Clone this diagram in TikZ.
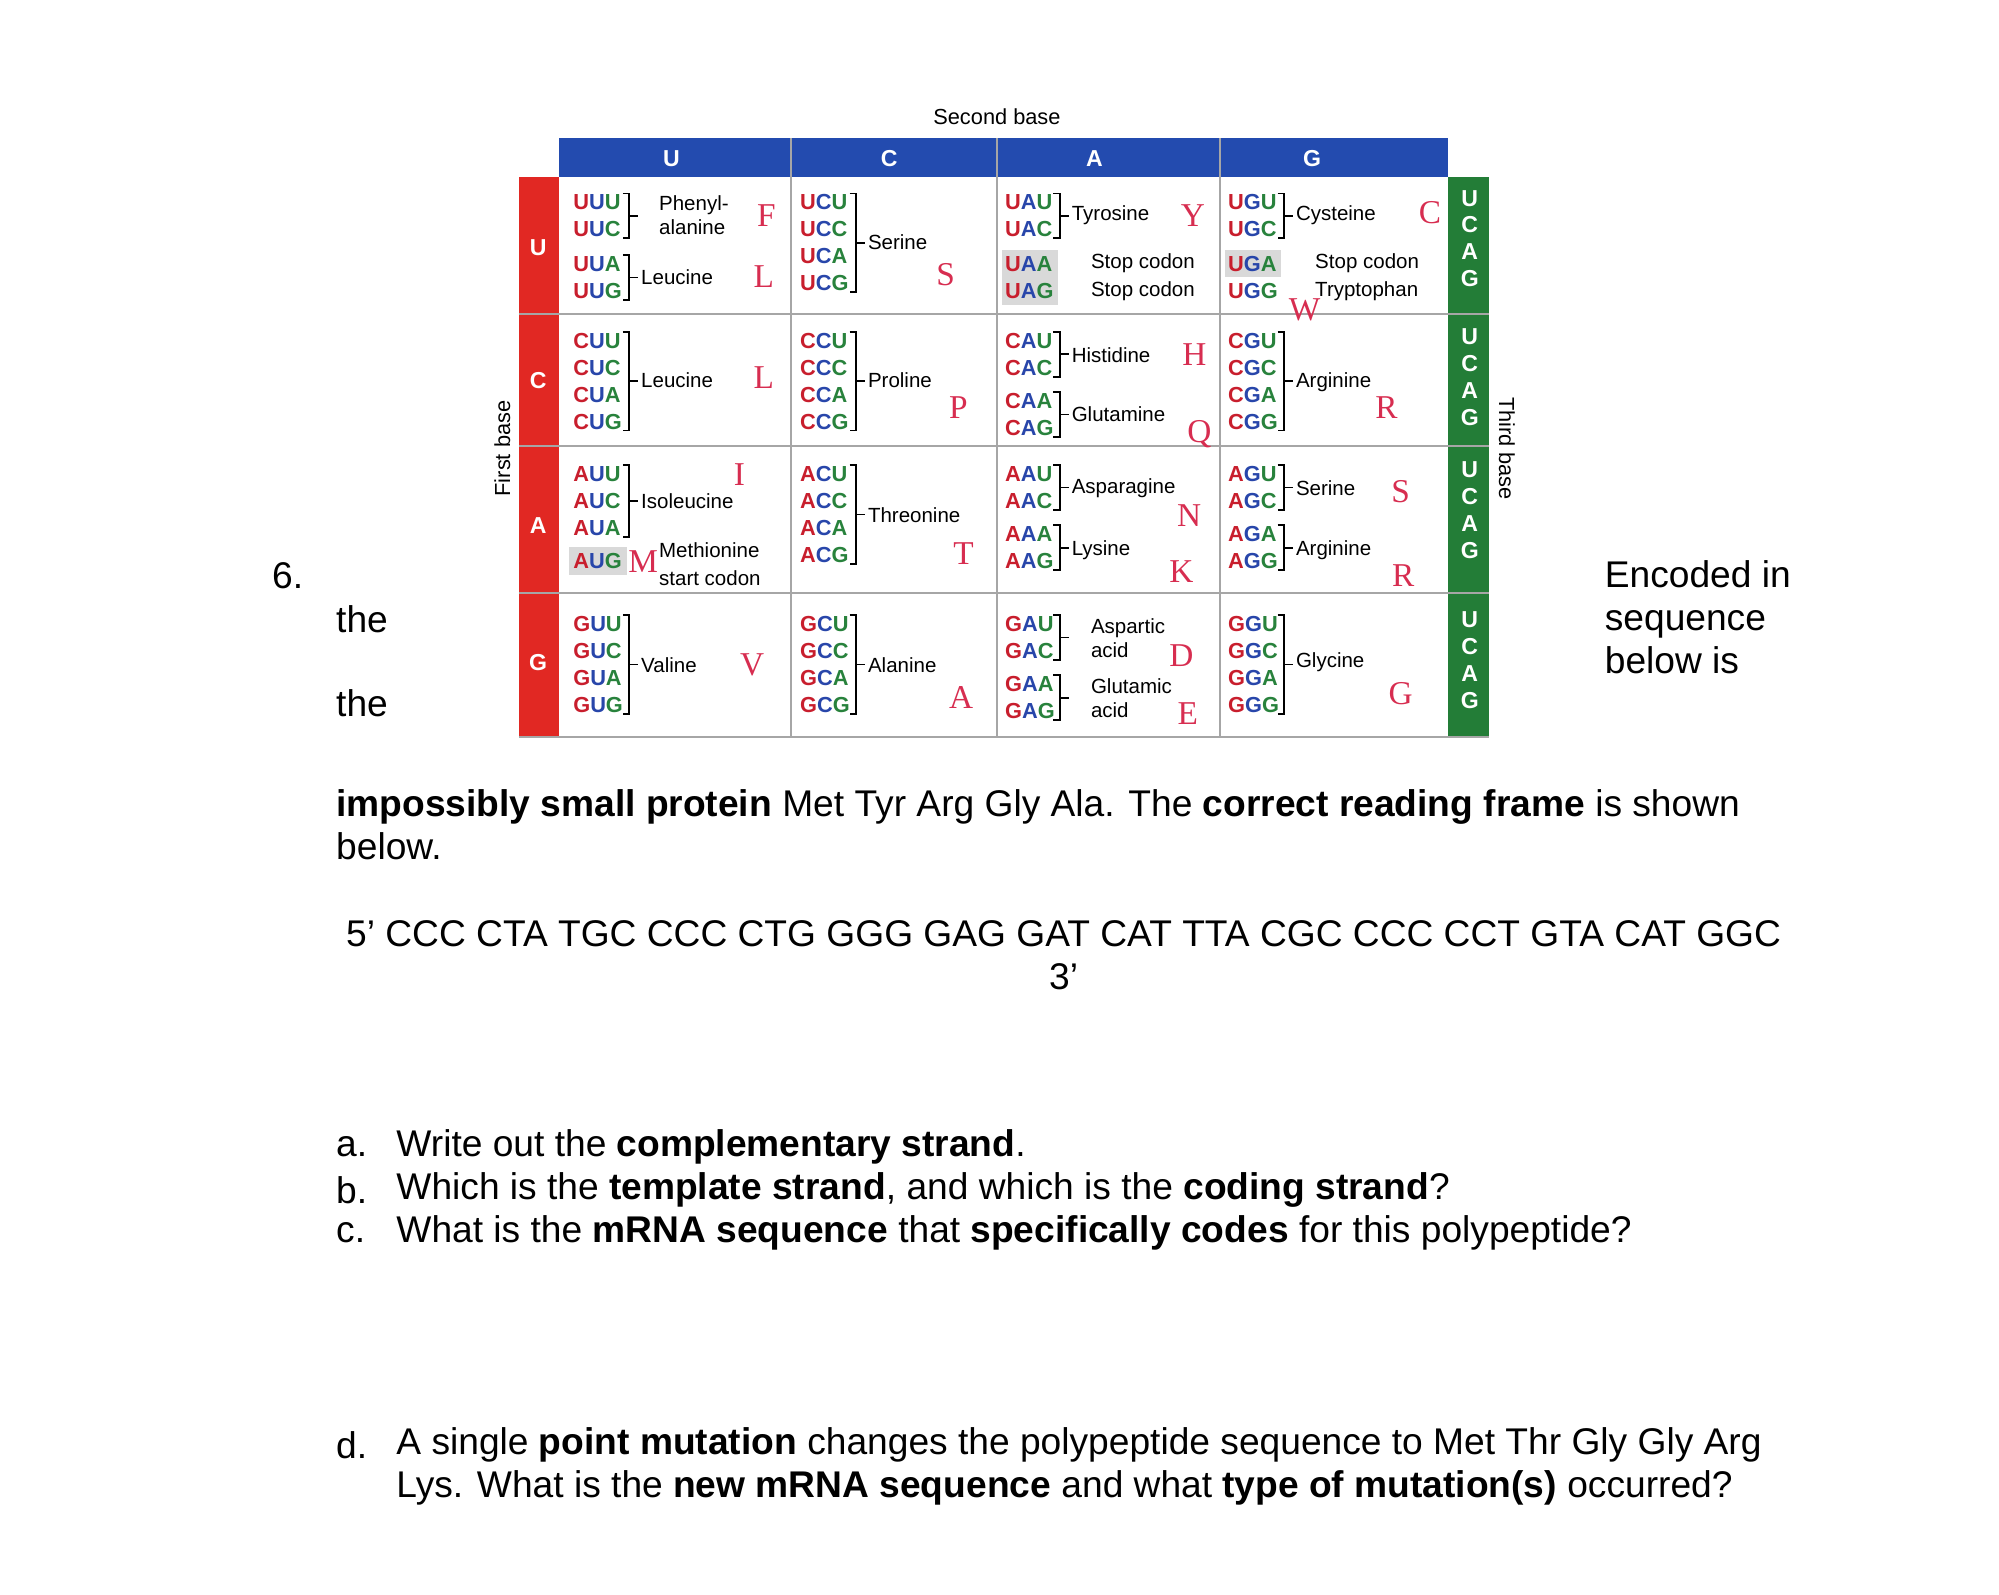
\documentclass[tikz,border=0pt]{standalone}
\usepackage{fontspec}
\setmainfont{Liberation Sans}
\newfontfamily\serifL{Liberation Serif}
\definecolor{cR}{RGB}{200,30,45}
\definecolor{cB}{RGB}{40,70,170}
\definecolor{cG}{RGB}{40,130,60}
\definecolor{hdrB}{RGB}{35,75,175}
\definecolor{hdrR}{RGB}{225,40,35}
\definecolor{hdrG}{RGB}{35,125,55}
\definecolor{aaR}{RGB}{215,45,80}
\newcommand\cd[3]{\textcolor{cR}{#1}\textcolor{cB}{#2}\textcolor{cG}{#3}}
\tikzset{
 codon/.style={anchor=west,font=\fontsize{8.5}{9}\selectfont\bfseries,inner sep=0pt},
 aa/.style={anchor=west,font=\fontsize{8}{9.5}\selectfont,inner sep=0pt,align=left},
 let/.style={font=\fontsize{13}{13}\serifL\selectfont,text=aaR,inner sep=0pt},
 brk/.style={line width=0.7pt},
 hd/.style={text=white,font=\fontsize{9}{9}\selectfont\bfseries,inner sep=0pt},
 body/.style={anchor=west,font=\fontsize{14.5}{16.7}\selectfont,inner sep=0pt,align=left},
 gridl/.style={draw=black!35,line width=0.8pt}
}
\newcommand\brk[3]{%
 \draw[brk] ({#1-5},{#2-7})--(#1,{#2-7})--(#1,{#3+7})--({#1-5},{#3+7});
 \draw[brk] (#1,{(#2+#3)/2})--({#1+7},{(#2+#3)/2});}
\begin{document}
\begin{tikzpicture}[x=0.5pt,y=-0.5pt]
\useasboundingbox (0,0) rectangle (1560,1244);
% table frame
\fill[hdrB] (436,108) rectangle (1130,138);
\fill[hdrR] (405,138) rectangle (436,575);
\fill[hdrG] (1130,138) rectangle (1162,575);
\foreach \y in {245,348,463} \draw[gridl] (405,\y)--(1162,\y);
\foreach \x in {617,778,952} \draw[gridl] (\x,108)--(\x,575);
\draw[gridl] (405,575)--(1162,575);
\node[font=\fontsize{8.5}{9}\selectfont] (sb) at (778,91) {Second base};
\node[font=\fontsize{8.5}{9}\selectfont,rotate=90] (fb) at (392,350) {First base};
\node[font=\fontsize{8.5}{9}\selectfont,rotate=-90] (tb) at (1176,350) {Third base};
\node[hd] (hU) at (524,124) {U};
\node[hd] (hC) at (694,124) {C};
\node[hd] (hA) at (854,124) {A};
\node[hd] (hG) at (1024,124) {G};
\node[hd] (r1) at (420,193) {U};
\node[hd] (r2) at (420,297) {C};
\node[hd] (r3) at (420,410) {A};
\node[hd] (r4) at (420,517) {G};
\foreach \b/\ys in {0/158,1/266,2/370,3/487}{
 \node[hd,align=center,font=\fontsize{9}{10.5}\selectfont\bfseries,anchor=north] at (1147,{\ys-10}) {U\\C\\A\\G};
}
% gray backgrounds
\fill[black!15] (782,195) rectangle (826,238);
\fill[black!15] (956,195) rectangle (1000,216);
\fill[black!15] (444,427) rectangle (489,449);
% ---- row U
\node[codon] at (447,158) {\cd UUU};
\node[codon] at (447,179) {\cd UUC};
\node[codon] at (447,206) {\cd UUA};
\node[codon] at (447,227) {\cd UUG};
\brk{491}{158}{179} \node[aa] at (514,168) {Phenyl-\\alanine};
\node[let] at (598,168) {F};
\brk{491}{206}{227} \node[aa] at (500,216) {Leucine};
\node[let] at (596,216) {L};
\node[codon] at (624,158) {\cd UCU};
\node[codon] at (624,179) {\cd UCC};
\node[codon] at (624,200) {\cd UCA};
\node[codon] at (624,221) {\cd UCG};
\brk{668}{158}{221} \node[aa] at (677,189) {Serine};
\node[let] at (738,214) {S};
\node[codon] at (784,158) {\cd UAU};
\node[codon] at (784,179) {\cd UAC};
\node[codon] at (784,206) {\cd UAA};
\node[codon] at (784,227) {\cd UAG};
\brk{827}{158}{179} \node[aa] at (836,168) {Tyrosine};
\node[let] at (931,168) {Y};
\node[aa] at (851,205) {Stop codon};
\node[aa] at (851,227) {Stop codon};
\node[codon] at (958,158) {\cd UGU};
\node[codon] at (958,179) {\cd UGC};
\node[codon] at (958,206) {\cd UGA};
\node[codon] at (958,227) {\cd UGG};
\brk{1002}{158}{179} \node[aa] at (1011,168) {Cysteine};
\node[let] at (1116,166) {C};
\node[aa] at (1026,205) {Stop codon};
\node[aa] at (1026,227) {Tryptophan};
\node[let] at (1018,242) {W};
% ---- row C
\node[codon] at (447,266) {\cd CUU};
\node[codon] at (447,287) {\cd CUC};
\node[codon] at (447,308) {\cd CUA};
\node[codon] at (447,329) {\cd CUG};
\brk{491}{266}{329} \node[aa] at (500,297) {Leucine};
\node[let] at (596,295) {L};
\node[codon] at (624,266) {\cd CCU};
\node[codon] at (624,287) {\cd CCC};
\node[codon] at (624,308) {\cd CCA};
\node[codon] at (624,329) {\cd CCG};
\brk{668}{266}{329} \node[aa] at (677,297) {Proline};
\node[let] at (748,318) {P};
\node[codon] at (784,266) {\cd CAU};
\node[codon] at (784,287) {\cd CAC};
\node[codon] at (784,313) {\cd CAA};
\node[codon] at (784,334) {\cd CAG};
\brk{827}{266}{287} \node[aa] at (836,277) {Histidine};
\node[let] at (932,277) {H};
\brk{827}{313}{334} \node[aa] at (836,323) {Glutamine};
\node[let] at (936,339) {Q};
\node[codon] at (958,266) {\cd CGU};
\node[codon] at (958,287) {\cd CGC};
\node[codon] at (958,308) {\cd CGA};
\node[codon] at (958,329) {\cd CGG};
\brk{1002}{266}{329} \node[aa] at (1011,298) {Arginine};
\node[let] at (1082,318) {R};
% ---- row A
\node[codon] at (447,370) {\cd AUU};
\node[codon] at (447,391) {\cd AUC};
\node[codon] at (447,412) {\cd AUA};
\node[codon] at (447,438) {\cd AUG};
\brk{491}{370}{412} \node[aa] at (500,391) {Isoleucine};
\node[let] at (577,370) {I};
\node[let] at (502,438) {M};
\node[aa] at (514,429) {Methionine};
\node[aa] at (514,451) {start codon};
\node[codon] at (624,370) {\cd ACU};
\node[codon] at (624,391) {\cd ACC};
\node[codon] at (624,412) {\cd ACA};
\node[codon] at (624,433) {\cd ACG};
\brk{668}{370}{433} \node[aa] at (677,402) {Threonine};
\node[let] at (752,432) {T};
\node[codon] at (784,370) {\cd AAU};
\node[codon] at (784,391) {\cd AAC};
\node[codon] at (784,417) {\cd AAA};
\node[codon] at (784,438) {\cd AAG};
\brk{827}{370}{391} \node[aa] at (836,381) {Asparagine};
\node[let] at (928,402) {N};
\brk{827}{417}{438} \node[aa] at (836,429) {Lysine};
\node[let] at (922,446) {K};
\node[codon] at (958,370) {\cd AGU};
\node[codon] at (958,391) {\cd AGC};
\node[codon] at (958,417) {\cd AGA};
\node[codon] at (958,438) {\cd AGG};
\brk{1002}{370}{391} \node[aa] at (1011,381) {Serine};
\node[let] at (1093,384) {S};
\brk{1002}{417}{438} \node[aa] at (1011,429) {Arginine};
\node[let] at (1095,449) {R};
% ---- row G
\node[codon] at (447,487) {\cd GUU};
\node[codon] at (447,508) {\cd GUC};
\node[codon] at (447,529) {\cd GUA};
\node[codon] at (447,550) {\cd GUG};
\brk{491}{487}{550} \node[aa] at (500,519) {Valine};
\node[let] at (587,519) {V};
\node[codon] at (624,487) {\cd GCU};
\node[codon] at (624,508) {\cd GCC};
\node[codon] at (624,529) {\cd GCA};
\node[codon] at (624,550) {\cd GCG};
\brk{668}{487}{550} \node[aa] at (677,519) {Alanine};
\node[let] at (750,544) {A};
\node[codon] at (784,487) {\cd GAU};
\node[codon] at (784,508) {\cd GAC};
\node[codon] at (784,534) {\cd GAA};
\node[codon] at (784,555) {\cd GAG};
\brk{827}{487}{508} \node[aa] at (851,498) {Aspartic\\acid};
\node[let] at (922,512) {D};
\brk{827}{534}{555} \node[aa] at (851,545) {Glutamic\\acid};
\node[let] at (927,557) {E};
\node[codon] at (958,487) {\cd GGU};
\node[codon] at (958,508) {\cd GGC};
\node[codon] at (958,529) {\cd GGA};
\node[codon] at (958,550) {\cd GGG};
\brk{1002}{487}{550} \node[aa] at (1011,517) {Glycine};
\node[let] at (1093,541) {G};
% ---- body text
\node[body] (n6) at (212,449) {6.};
\node[body] (the1) at (262,483) {the};
\node[body] (the2) at (262,549) {the};
\node[body,anchor=north west] (enc) at (1252,437) {Encoded in\\sequence\\below is};
\node[body,anchor=north west] (p1) at (262,616) {\textbf{impossibly small protein} Met Tyr Arg Gly Ala. The \textbf{correct reading frame} is shown\\below.};
\node[body,anchor=center] (dna) at (830,729) {5’ CCC CTA TGC CCC CTG GGG GAG GAT CAT TTA CGC CCC CCT GTA CAT GGC};
\node[body,anchor=center] (dna3) at (830,762) {3’};
\node[body] (la) at (262,895) {a.}; \node[body] (ta) at (309,895) {Write out the \textbf{complementary strand}.};
\node[body] (lb) at (262,929) {b.}; \node[body] (tb2) at (309,929) {Which is the \textbf{template strand}, and which is the \textbf{coding strand}?};
\node[body] (lc) at (262,962) {c.}; \node[body] (tc) at (309,962) {What is the \textbf{mRNA sequence} that \textbf{specifically codes} for this polypeptide?};
\node[body] (ld) at (262,1128) {d.};
\node[body,anchor=north west] (td) at (309,1114) {A single \textbf{point mutation} changes the polypeptide sequence to Met Thr Gly Gly Arg\\Lys. What is the \textbf{new mRNA sequence} and what \textbf{type of mutation(s)} occurred?};
\end{tikzpicture}
\end{document}
